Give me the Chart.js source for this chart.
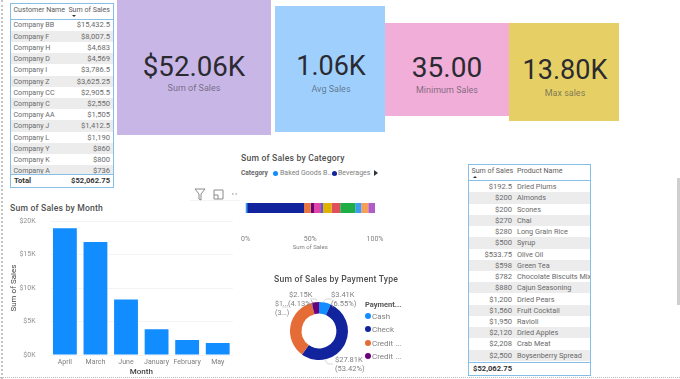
<!DOCTYPE html>
<html><head><meta charset="utf-8">
<script src="https://cdn.jsdelivr.net/npm/chart.js@4"></script>
<style>
html,body{margin:0;padding:0;background:#fff;width:680px;height:379px;overflow:hidden;font-family:Roboto,sans-serif}
.a{position:absolute}
.card{position:absolute}
.c{position:absolute;transform:translate(-50%,-50%);white-space:nowrap}
.tbl{position:absolute;border:1px solid #85bfe8;box-sizing:border-box;background:#fff;font-size:7.6px;color:#6a6a6a;overflow:hidden}
.row{position:absolute;left:0;right:0;height:11.23px;line-height:11.23px;white-space:nowrap}
.row.g{background:#ececec}
.row span{position:absolute}
.hd{font-size:7.1px}
.nm{font-size:7.1px}
.ttl{position:absolute;transform:translateY(-50%);font-size:8.6px;color:#505050;white-space:nowrap;letter-spacing:.2px;font-weight:500}
.sm{position:absolute;transform:translateY(-50%);font-size:7.5px;color:#808080;white-space:nowrap}
canvas{position:absolute}
</style></head><body>
<div class="a" style="left:1px;top:0;bottom:0;border-left:2px dotted #c4c4c4"></div>
<div class="a" style="left:0;right:0;top:377px;border-top:1px dotted #bbb"></div>
<div class="a" style="left:677px;top:178px;width:3px;height:127px;background:#cfcfcf"></div>
<div class="a" style="left:190px;top:200px;width:50px;border-top:1px solid #f4f4f4"></div>

<div id="kpis"></div>
<div id="t1" class="tbl" style="left:10px;top:3px;width:104px;height:185px"></div>
<div id="t2" class="tbl" style="left:468px;top:164px;width:123px;height:212px"></div>

<div class="ttl" style="left:10px;top:208px">Sum of Sales by Month</div>
<canvas id="bar" style="left:5px;top:203px" width="235" height="174"></canvas>
<svg class="a" style="left:190px;top:186px" width="50" height="16" fill="none" stroke="#8a8a8a" stroke-width="1">
<path d="M5 3h10l-4 5v6l-2-1v-5z"/><path d="M24 4h9v9h-9z M24 9h4v4"/><path d="M42 8h1.5M45.5 8h1.5" stroke-width="1.2"/></svg>

<div class="ttl" style="left:241px;top:158px">Sum of Sales by Category</div>
<div class="sm" style="left:241px;top:173px;font-size:6.6px;font-weight:700;color:#666">Category</div>
<div class="a" style="left:273px;top:170.5px;width:5px;height:5px;border-radius:50%;background:#118dff"></div>
<div class="sm" style="left:280px;top:173px;font-size:7px">Baked Goods B...</div>
<div class="a" style="left:331.5px;top:170.5px;width:5px;height:5px;border-radius:50%;background:#12239e"></div>
<div class="sm" style="left:338px;top:173px;font-size:7px">Beverages</div>
<div class="a" style="left:374px;top:170px;border-left:4px solid #333;border-top:3px solid transparent;border-bottom:3px solid transparent"></div>
<canvas id="cat" style="left:225px;top:190px" width="170" height="61"></canvas>

<div class="ttl" style="left:274px;top:279px">Sum of Sales by Payment Type</div>
<canvas id="pie" style="left:279px;top:291px" width="80" height="80"></canvas>
<svg class="a" style="left:260px;top:265px" width="110" height="114" fill="none" stroke="#c4c4c4" stroke-width=".7">
<path d="M50 34h6M72 34h-6l-3 3M56 34l1 2M22 42h6M64 94l4 5h5"/></svg>
<div class="sm" style="left:289px;top:294px">$2.15K</div>
<div class="sm" style="left:288px;top:303px">(4.13%)</div>
<div class="sm" style="left:331px;top:294px">$3.41K</div>
<div class="sm" style="left:331px;top:303px">(6.55%)</div>
<div class="sm" style="left:275px;top:304px;font-size:7px">$1...</div>
<div class="sm" style="left:275px;top:313px;font-size:7px">(3...)</div>
<div class="sm" style="left:335px;top:359px">$27.81K</div>
<div class="sm" style="left:335px;top:368px">(53.42%)</div>
<div class="sm" style="left:365px;top:304px;font-weight:700;color:#555">Payment...</div>
<div id="plg"></div>

<script>
/* --- data --- */
const kpiValues=["$52.06K","1.06K","35.00","13.80K"];
const kpiLabels=["Sum of Sales","Avg Sales","Minimum Sales","Max sales"];
const customers=["Company BB","Company F","Company H","Company D","Company I","Company Z","Company CC","Company C","Company AA","Company J","Company L","Company Y","Company K","Company A"];
const customerSales=["$15,432.5","$8,007.5","$4,683","$4,569","$3,786.5","$3,625.25","$2,905.5","$2,550","$1,505","$1,412.5","$1,190","$860","$800","$736"];
const productSales=["$192.5","$200","$200","$270","$280","$500","$533.75","$598","$782","$880","$1,200","$1,560","$1,950","$2,120","$2,208","$2,500"];
const products=["Dried Plums","Almonds","Scones","Chai","Long Grain Rice","Syrup","Olive Oil","Green Tea","Chocolate Biscuits Mix","Cajun Seasoning","Dried Pears","Fruit Cocktail","Ravioli","Dried Apples","Crab Meat","Boysenberry Spread"];
const grandTotal="$52,062.75";
const months=["April","March","June","January","February","May"];
const monthSales=[18950,16900,8300,3850,2250,1800];
const monthTicks=["$0K","$5K","$10K","$15K","$20K"];
const categories=["Baked Goods & Mixes","Beverages","Candy","Canned Fruit","Canned Meat","Cereal","Condiments","Dairy","Dried Fruit","Grains","Jams","Soups"];
const categoryShare=[1.3,43.9,5.2,2.6,4.65,2.3,6.5,6.7,11.6,4.65,5.4,5.2];
const categoryColors=["#2f97f5","#12239e","#e8763f","#6b007b","#e044a7","#744ec2","#dcb400","#e0505a","#1fae45","#3c9cf0","#f5a05a","#b25cc8"];
const payTypes=["Cash","Check","Credit Card","Credit Other"];
const payLegend=["Cash","Check","Credit ...","Credit ..."];
const paySales=[3410,27810,18690,2150];
const payColors=["#118dff","#12239e","#e66c37","#6b007b"];

/* --- cards and tables --- */
const boxes=[[117,0,154,135,"#c8b6e6",194,66,27.7,88],[275,6,110,126,"#9fd0fd",331,66,27,89],[385,23,124,93,"#f0aed8",447,67,28,90],[509,23,110,98,"#e6d066",565,70,27,93]];
const k=document.getElementById("kpis");
boxes.forEach((b,i)=>{
 k.innerHTML+=`<div class="card" style="left:${b[0]}px;top:${b[1]}px;width:${b[2]}px;height:${b[3]}px;background:${b[4]}"></div>`+
 `<div class="c" style="left:${b[5]}px;top:${b[6]}px;font-size:${b[7]}px;color:#2a2a30">${kpiValues[i]}</div>`+
 `<div class="c" style="left:${b[5]}px;top:${b[8]}px;font-size:9px;color:rgba(60,60,70,.62)">${kpiLabels[i]}</div>`;
});
function arrow(x,y,up){return `<div class="a" style="left:${x}px;top:${y}px;border-left:2px solid transparent;border-right:2px solid transparent;${up?'border-bottom':'border-top'}:2.5px solid #333"></div>`}
function table(el,rows,total,leftFirst,rowTop,headH){
 let h="";const w=el.clientWidth,H=el.clientHeight;
 h+=`<div class="row hd" style="top:0;height:12px;line-height:12px;color:#5c5c5c">`+(leftFirst?`<span style="left:2.5px">Customer Name</span><span style="right:3px">Sum of Sales</span>`:`<span style="left:2.5px">Sum of Sales</span><span style="left:48px">Product Name</span>`)+`</div>`;
 h+=leftFirst?arrow(60.5,11,false):arrow(3.5,11,true);
 h+=`<div class="a" style="left:0;right:0;top:${headH}px;border-top:1px solid #85bfe8"></div>`;
 rows.forEach((r,i)=>{const t=rowTop+i*11.23;
  h+=`<div class="row${i%2?' g':''}" style="top:${t}px">`+(leftFirst?`<span class="nm" style="left:2.5px">${r[0]}</span><span style="right:3px">${r[1]}</span>`:`<span style="right:${w-43}px">${r[0]}</span><span class="nm" style="left:48px;font-size:7.3px">${r[1]}</span>`)+`</div>`});
 const tt=H-13;
 h+=`<div class="a" style="left:0;right:0;top:${tt}px;height:13px;background:#fff;border-top:1px solid #85bfe8;font-weight:700;color:#333;line-height:12px">`+(leftFirst?`<span class="a" style="left:3px">Total</span><span class="a" style="right:3px">${total}</span>`:`<span class="a" style="right:${w-43}px">${total}</span>`)+`</div>`;
 el.innerHTML=h;
}
table(document.getElementById("t1"),customers.map((c,i)=>[c,customerSales[i]]),grandTotal,true,15.4,15);
table(document.getElementById("t2"),productSales.map((c,i)=>[c,products[i]]),grandTotal,false,16.2,15);
const pl=document.getElementById("plg");
payLegend.forEach((n,i)=>{const y=316+i*13.4;pl.innerHTML+=`<div class="a" style="left:364.5px;top:${y-3}px;width:6px;height:6px;border-radius:50%;background:${payColors[i]}"></div><div class="sm" style="left:372px;top:${y}px;font-size:8px">${n}</div>`});

/* --- charts --- */
Chart.defaults.animation=false;Chart.defaults.responsive=false;
Chart.defaults.font.family='Roboto';
new Chart(document.getElementById("bar"),{type:"bar",data:{labels:months,datasets:[{data:monthSales,backgroundColor:"#118dff",categoryPercentage:1,barPercentage:.78}]},
options:{layout:{padding:{top:0,right:7,left:4,bottom:0}},plugins:{legend:{display:false},tooltip:{enabled:false}},
scales:{x:{afterFit(s){s.height=22},grid:{display:false,drawTicks:false},border:{display:false},ticks:{color:"#808080",font:{size:7},padding:3,maxRotation:0,autoSkip:false},title:{display:true,text:"Month",color:"#444",font:{size:8,weight:"500"},padding:0}},
y:{min:0,max:20000,grid:{color:"#f4f4f4",lineWidth:1,drawTicks:false},border:{display:false},afterFit(s){s.width=40.6},
ticks:{stepSize:5000,color:"#909090",font:{size:7},padding:14,callback:(v)=>monthTicks[v/5000]},title:{display:true,text:"Sum of Sales",color:"#444",font:{size:8},padding:0}}}}});
new Chart(document.getElementById("cat"),{type:"bar",data:{labels:["Sales"],datasets:categories.map((c,i)=>({label:c,data:[categoryShare[i]],backgroundColor:categoryColors[i],stack:"s",categoryPercentage:1,barPercentage:.28}))},
options:{indexAxis:"y",layout:{padding:{left:20.5,right:20}},plugins:{legend:{display:false},tooltip:{enabled:false}},
scales:{x:{min:0,max:100,stacked:true,afterFit(s){s.height=25},grid:{display:false,drawTicks:false},border:{display:false},ticks:{stepSize:50,color:"#808080",font:{size:7},padding:9,callback:v=>v+"%",maxRotation:0},title:{display:true,text:"Sum of Sales",color:"#808080",font:{size:6},padding:0}},
y:{display:false,stacked:true}}}});
new Chart(document.getElementById("pie"),{type:"doughnut",data:{labels:payTypes,datasets:[{data:paySales,backgroundColor:payColors,borderWidth:0}]},
options:{cutout:"60%",radius:29,plugins:{legend:{display:false},tooltip:{enabled:false}}}});
</script>
</body></html>
